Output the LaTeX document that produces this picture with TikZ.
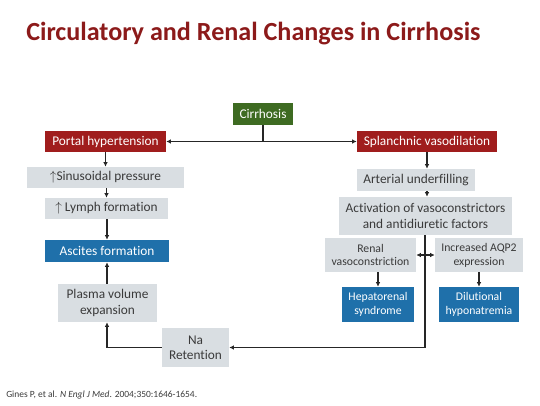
\documentclass[tikz,border=0pt]{standalone}
\usepackage{fontspec}
\setmainfont{Carlito}[Ligatures=NoCommon]
\usetikzlibrary{arrows.meta}
\definecolor{titlered}{HTML}{8C1A1A}
\definecolor{boxred}{HTML}{A01D1D}
\definecolor{boxgreen}{HTML}{3E6B22}
\definecolor{boxblue}{HTML}{1F70AA}
\definecolor{boxgray}{HTML}{D9DEE2}
\definecolor{txtgray}{HTML}{3A3A3A}
\tikzset{
  flowbox/.style={inner sep=1pt, align=center, font=\fontsize{10}{11.5}\selectfont},
  darkbox/.style={flowbox, fill=#1, text=white},
  greybox/.style={flowbox, fill=boxgray, text=txtgray},
  smallbox/.style={font=\fontsize{8.8}{10.4}\selectfont},
  flowline/.style={line width=1pt, black!85},
  flowarrow/.style={flowline, -{Latex[length=3.5pt,width=3.5pt]}},
}
\begin{document}
\begin{tikzpicture}[x=0.75pt, y=-0.75pt]
    \useasboundingbox (0,0) rectangle (540,405);
    % Título y referencia de la diapositiva.
    \node[anchor=base west, text=titlered, font=\fontsize{19.6}{22}\selectfont\bfseries, inner sep=0pt] (title) at (26,40) {Circulatory and Renal Changes in Cirrhosis};
    \node[anchor=west, text=txtgray, font=\fontsize{7.1}{8}\selectfont, inner sep=0pt] (cite) at (6,395) {Gines P, et al. \textit{N Engl J Med}. 2004;350:1646-1654.};
    \node[darkbox=boxgreen, minimum width=60*0.75pt, minimum height=22*0.75pt] (cir) at (263,114) {Cirrhosis};
    \node[darkbox=boxred, minimum width=121*0.75pt, minimum height=21*0.75pt] (portal) at (105.5,141.5) {Portal hypertension};
    \node[darkbox=boxred, minimum width=140*0.75pt, minimum height=21*0.75pt] (splanch) at (427,141.5) {Splanchnic vasodilation};
    \node[greybox, minimum width=157*0.75pt, minimum height=21*0.75pt] (sinus) at (105.5,177.5) {$\uparrow$Sinusoidal pressure};
    \node[greybox, minimum width=123*0.75pt, minimum height=21*0.75pt] (lymph) at (106.5,208.5) {$\uparrow$ Lymph formation};
    \node[darkbox=boxblue, minimum width=124*0.75pt, minimum height=22*0.75pt] (ascites) at (107,251) {Ascites formation};
    \node[greybox, minimum width=99*0.75pt, minimum height=38*0.75pt] (plasma) at (107.5,303) {Plasma volume\\expansion};
    \node[greybox, minimum width=67*0.75pt, minimum height=39*0.75pt] (na) at (195.5,347.5) {Na\\Retention};
    \node[greybox, minimum width=118*0.75pt, minimum height=22*0.75pt] (arterial) at (416,180) {Arterial underfilling};
    \node[greybox, minimum width=173*0.75pt, minimum height=38*0.75pt] (activ) at (425.5,216) {Activation of vasoconstrictors\\and antidiuretic factors};
    \node[greybox, smallbox, minimum width=91*0.75pt, minimum height=34*0.75pt] (renal) at (370.5,255) {Renal\\vasoconstriction};
    \node[greybox, smallbox, minimum width=88*0.75pt, minimum height=34*0.75pt] (aqp) at (479,255) {Increased AQP2\\expression};
    \node[darkbox=boxblue, smallbox, minimum width=72*0.75pt, minimum height=35*0.75pt] (hepato) at (378,304.5) {Hepatorenal\\syndrome};
    \node[darkbox=boxblue, smallbox, minimum width=80*0.75pt, minimum height=35*0.75pt] (dilut) at (479,304.5) {Dilutional\\hyponatremia};
    \coordinate (split) at (263,141.5);
    \coordinate (turn) at (425,347.5);
    \draw[flowline] (cir.south) -- (split);
    \draw[flowarrow] (split) -- (portal.east);
    \draw[flowarrow] (split) -- (splanch.west);
    \draw[flowarrow] (portal.south) -- (portal.south |- sinus.north);
    \draw[flowarrow] (sinus.south -| lymph.north) -- (lymph.north);
    \draw[flowarrow] (lymph.south -| ascites.north) -- (ascites.north);
    \draw[flowarrow] (plasma.north -| ascites.south) -- (ascites.south);
    \draw[flowarrow] (splanch.south) -- (splanch.south |- arterial.north);
    \draw[flowarrow] (arterial.south -| splanch.south) -- (activ.north -| splanch.south);
    \draw[flowline] (activ.south -| turn) -- (turn);
    \draw[flowarrow] (turn) -- (na.east);
    \draw[flowarrow] (na.west) -| (plasma.south -| ascites.south);
    \draw[flowline, {Latex[length=3.5pt,width=3.5pt]}-{Latex[length=3.5pt,width=3.5pt]}] (renal.east) -- (aqp.west);
    \draw[flowarrow] (renal.south -| hepato.north) -- (hepato.north);
    \draw[flowarrow] (aqp.south) -- (dilut.north);
\end{tikzpicture}
\end{document}
